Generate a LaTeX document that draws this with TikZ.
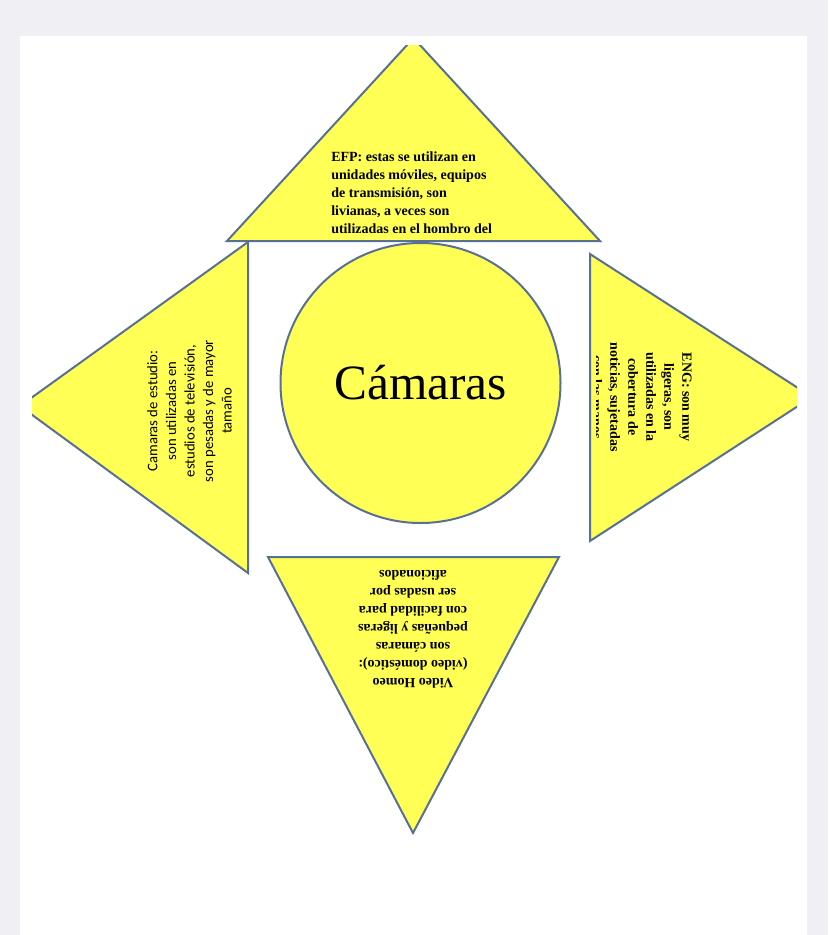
\documentclass[tikz,border=0pt]{standalone}
\usepackage{fontspec}
\setmainfont{Liberation Serif}
\newfontfamily\calfont{Carlito}
\definecolor{pagegray}{RGB}{240,239,244}
\definecolor{triyellow}{RGB}{255,255,85}
\definecolor{triline}{RGB}{88,112,148}

\begin{document}
\begin{tikzpicture}[x=0.75pt,y=-0.75pt]
        \tikzstyle{tri}=[draw=triline,fill=triyellow,line width=1.5pt,line join=miter]
        \tikzstyle{note}=[font=\bfseries\fontsize{10.5}{13.5}\selectfont,inner sep=0pt,align=center]
        \tikzstyle{side}=[font=\calfont\fontsize{11}{13.9}\selectfont,inner sep=0pt,align=center]
       % page
       \fill[pagegray] (0,0) rectangle (828,935);
       \fill[white] (20,36) rectangle (807,935);
       \begin{scope}
         \clip (32,45) rectangle (797,935);
         \coordinate (t1) at (413.5,38);
         \coordinate (t2) at (600,241);
         \coordinate (t3) at (227,241);
         \coordinate (l1) at (20,406);
         \coordinate (l2) at (248,242);
         \coordinate (l3) at (248,573);
         \coordinate (r1) at (812,397);
         \coordinate (r2) at (590,254);
         \coordinate (r3) at (590,541);
         \coordinate (b1) at (413,833);
         \coordinate (b2) at (268,557);
         \coordinate (b3) at (559,557);

         \draw[tri] (t1) -- (t2) -- (t3) -- cycle;
         \draw[tri] (l1) -- (l2) -- (l3) -- cycle;
         \draw[tri] (r1) -- (r2) -- (r3) -- cycle;
         \draw[tri] (b1) -- (b2) -- (b3) -- cycle;
       \end{scope}

       \node [tri,circle,minimum size=210pt,inner sep=0pt,font=\fontsize{37}{40}\selectfont] (cam) at (420.5,383) {C\'amaras};

       \node [note,align=left,anchor=north west] (efp) at (331,152) {EFP: estas se utilizan en\\unidades m\'oviles, equipos\\de transmisi\'on, son\\livianas, a veces son\\utilizadas en el hombro del};
       \node [side,rotate=90] (est) at (189.5,411) {Camaras de estudio:\\son utilizadas en\\estudios de televisi\'on,\\son pesadas y de mayor\\tama\~no};
       \begin{scope}
         \clip (596,250) rectangle (797,545);
         \node [note,rotate=-90] (eng) at (642,397) {ENG: son muy\\ligeras, son\\utilizadas en la\\cobertura de\\noticias, sujetadas\\con las manos};
       \end{scope}
       \node [note,rotate=180] (home) at (413,629) {Video Homeo\\(video dom\'estico):\\son c\'amaras\\peque\~nas y ligeras\\con facilidad para\\ser usadas por\\aficionados};
\end{tikzpicture}
\end{document}
